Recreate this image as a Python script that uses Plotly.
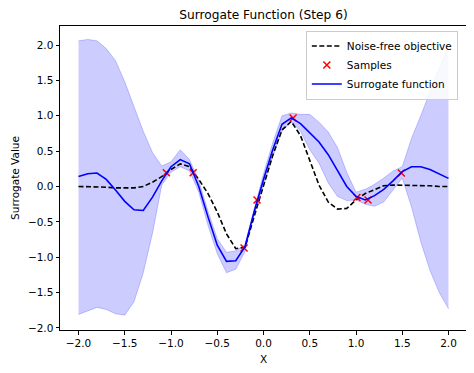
import plotly.graph_objects as go

# ---- data ----
x_grid = [-2.0, -1.9, -1.8, -1.7, -1.6, -1.5, -1.4, -1.3, -1.2, -1.1,
          -1.0, -0.9, -0.8, -0.7, -0.6, -0.5, -0.4, -0.3, -0.2, -0.1,
          0.0, 0.1, 0.2, 0.3, 0.4, 0.5, 0.6, 0.7, 0.8, 0.9,
          1.0, 1.1, 1.2, 1.3, 1.4, 1.5, 1.6, 1.7, 1.8, 1.9, 2.0]

objective = [0.0, 0.0, 0.0, -0.01, -0.02, -0.02, -0.02, 0.0, 0.06, 0.14,
             0.24, 0.32, 0.28, 0.10, -0.10, -0.36, -0.67, -0.88, -0.86, -0.42,
             0.0, 0.44, 0.80, 0.92, 0.72, 0.36, 0.02, -0.22, -0.32, -0.31,
             -0.19, -0.10, -0.04, 0.01, 0.02, 0.02, 0.02, 0.01, 0.01, 0.0, 0.0]

surrogate = [0.14, 0.18, 0.19, 0.10, -0.05, -0.21, -0.33, -0.34, -0.15, 0.08,
             0.28, 0.38, 0.32, 0.0, -0.43, -0.83, -1.06, -1.05, -0.85, -0.35,
             0.10, 0.52, 0.88, 0.97, 0.89, 0.76, 0.63, 0.45, 0.22, 0.0,
             -0.14, -0.19, -0.13, -0.04, 0.08, 0.21, 0.28, 0.28, 0.24, 0.18, 0.115]

upper = [2.06, 2.08, 2.06, 1.95, 1.78, 1.48, 1.13, 0.78, 0.48, 0.29,
         0.35, 0.52, 0.38, 0.08, -0.35, -0.74, -0.93, -0.91, -0.82, -0.30,
         0.18, 0.62, 1.00, 1.04, 1.02, 1.02, 0.91, 0.77, 0.55, 0.20,
         -0.08, -0.04, 0.03, 0.12, 0.22, 0.28, 0.68, 1.00, 1.35, 1.68, 1.97]

lower = [-1.81, -1.76, -1.71, -1.74, -1.80, -1.82, -1.63, -1.22, -0.66, 0.02,
         0.20, 0.28, 0.22, -0.08, -0.55, -0.95, -1.22, -1.17, -0.92, -0.40,
         0.02, 0.42, 0.78, 0.92, 0.78, 0.52, 0.33, 0.05, -0.14, -0.20,
         -0.19, -0.25, -0.28, -0.22, -0.05, 0.12, -0.29, -0.78, -1.19, -1.50, -1.73]

sample_x = [-1.05, -0.76, -0.21, -0.07, 0.32, 1.01, 1.13, 1.49]
sample_y = [0.195, 0.195, -0.87, -0.19, 0.97, -0.155, -0.19, 0.19]

x_ticks = [-2.0, -1.5, -1.0, -0.5, 0.0, 0.5, 1.0, 1.5, 2.0]
y_ticks = [-2.0, -1.5, -1.0, -0.5, 0.0, 0.5, 1.0, 1.5, 2.0]

FONT = "DejaVu Sans"

fig = go.Figure()

# uncertainty band
fig.add_trace(go.Scatter(x=x_grid, y=upper, mode="lines",
                         line=dict(color="rgba(0,0,255,0.2)", width=1),
                         showlegend=False, hoverinfo="skip"))
fig.add_trace(go.Scatter(x=x_grid, y=lower, mode="lines", fill="tonexty",
                         fillcolor="rgba(0,0,255,0.2)",
                         line=dict(color="rgba(0,0,255,0.2)", width=1),
                         showlegend=False, hoverinfo="skip"))

fig.add_trace(go.Scatter(x=x_grid, y=objective, mode="lines",
                         name="Noise-free objective",
                         line=dict(color="black", width=1.6, dash="5px,2.5px")))
fig.add_trace(go.Scatter(x=sample_x, y=sample_y, mode="markers",
                         name="Samples",
                         marker=dict(symbol="x-thin", size=7, color="red",
                                     line=dict(color="red", width=1.5))))
fig.add_trace(go.Scatter(x=x_grid, y=surrogate, mode="lines",
                         name="Surrogate function",
                         line=dict(color="blue", width=1.6)))

axis_common = dict(showline=True, mirror=True, linecolor="black", linewidth=1,
                   ticks="outside", ticklen=3.5, tickcolor="black",
                   showgrid=False, zeroline=False, tickformat=".1f",
                   automargin=False,
                   tickfont=dict(family=FONT, size=10.5, color="black"))

fig.update_xaxes(range=[-2.2, 2.2], tickvals=x_ticks,
                 title=dict(text="X", font=dict(family=FONT, size=10.5, color="black"),
                            standoff=7),
                 **axis_common)
fig.update_yaxes(range=[-2.03, 2.27], tickvals=y_ticks,
                 title=dict(text="Surrogate Value", font=dict(family=FONT, size=10.5, color="black"),
                            standoff=6),
                 **axis_common)

# the page body adds an 8px offset, so the figure is sized to fit the window
fig.update_layout(
    width=466, height=365,
    margin=dict(l=52, r=7, t=18, b=43, autoexpand=False),
    paper_bgcolor="white", plot_bgcolor="white",
    font=dict(family=FONT, size=10.5, color="black"),
    title=dict(text="Surrogate Function (Step 6)", x=0.5, xref="paper",
               xanchor="center", y=1 - 2.5 / 365, yanchor="top", yref="container",
               pad=dict(t=0, b=0),
               font=dict(family=FONT, size=12.2, color="black")),
    legend=dict(x=0.604, y=0.985, xanchor="left", yanchor="top",
                traceorder="normal",
                bgcolor="rgba(255,255,255,0.85)", bordercolor="#cccccc",
                borderwidth=1, font=dict(family=FONT, size=10.5, color="black"),
                tracegroupgap=0, itemwidth=30),
    showlegend=True,
)

fig.write_html("out.html")
